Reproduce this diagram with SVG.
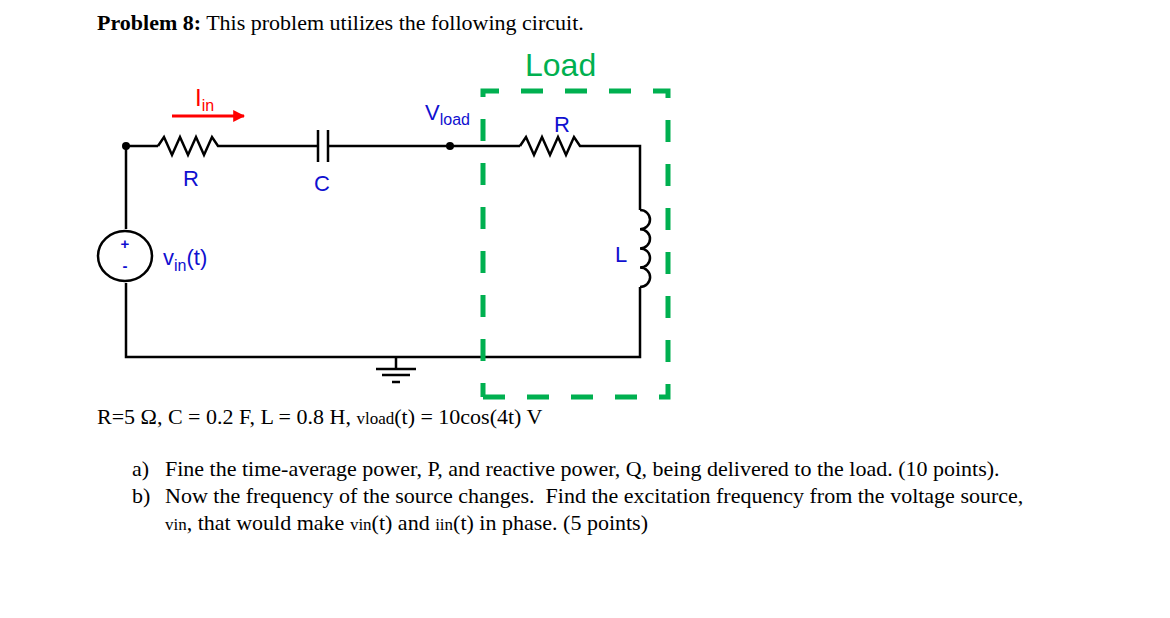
<svg xmlns="http://www.w3.org/2000/svg" width="1170" height="618" viewBox="0 0 1170 618">
<style>
.w{stroke:#000;stroke-width:2.5;fill:none}
.lb{font-family:"Liberation Sans",Arial,sans-serif;fill:#1010d0;font-size:22px}
.t{font-family:"Liberation Serif","Times New Roman",serif;font-size:22px;fill:#000}
.g{stroke:#00b050;stroke-width:5;fill:none;stroke-dasharray:22,22}
</style>
<defs><marker id="ah" viewBox="0 0 10 10" refX="9" refY="5" markerWidth="4" markerHeight="4" orient="auto"><path d="M0,0L10,5L0,10z" fill="#f00"/></marker></defs>
<rect width="1170" height="618" fill="#fff"/>
<text class="t" x="97" y="30"><tspan font-weight="bold">Problem 8:</tspan> This problem utilizes the following circuit.</text>
<g id="wires">
<path class="w" d="M126,146H158M224,146H318M328,146H450H520M590,146H640V210M640,287V357H126V283M126,229V146"/>
<path class="w" d="M396,357V369"/>
</g>
<g id="R1"><path class="w" d="M158,146L164,137L172,155L180,137L188,155L196,137L204,155L212,137L218,146H224"/><text class="lb" x="183" y="186">R</text></g>
<g id="C"><path class="w" d="M318,130V162M328,130V162"/><text class="lb" x="314" y="191">C</text></g>
<g id="nodes"><circle cx="126" cy="146" r="4"/><circle cx="450" cy="146" r="4"/></g>
<g id="Vload"><text class="lb" x="425" y="120" font-size="24">V<tspan font-size="16" dy="5">load</tspan></text></g>
<g id="Iin"><path d="M172,116H244" stroke="#f00" stroke-width="3" marker-end="url(#ah)"/><text x="195" y="106" font-family="Liberation Sans,Arial,sans-serif" font-size="24" fill="#f00">I<tspan font-size="16" dy="5">in</tspan></text></g>
<g id="Vin"><ellipse cx="125" cy="256" rx="27" ry="25" class="w"/><text x="125" y="249" font-family="Liberation Sans,Arial,sans-serif" font-size="15" font-weight="bold" fill="#1010d0" text-anchor="middle">+</text><text x="125" y="271" font-family="Liberation Sans,Arial,sans-serif" font-size="15" font-weight="bold" fill="#1010d0" text-anchor="middle">-</text><text class="lb" x="163" y="265">v<tspan font-size="16" dy="6">in</tspan><tspan dy="-6">(t)</tspan></text></g>
<g id="R2"><path class="w" d="M520,146L526,137L534,155L542,137L550,155L558,137L566,155L574,137L580,146H590"/><text class="lb" x="554" y="132">R</text></g>
<g id="L"><path class="w" d="M640,210A10,9.6 0 0 1 640,229.2A10,9.6 0 0 1 640,248.4A10,9.6 0 0 1 640,267.6A10,9.6 0 0 1 640,287"/><text class="lb" x="615" y="262">L</text></g>
<g id="gnd"><path class="w" d="M376,369H416M382,375H410M392,382H400"/></g>
<g id="load"><path class="g" d="M483,397V91H668V397H483" stroke-dasharray="22,22" stroke-dashoffset="8"/><text x="525" y="76" font-family="Liberation Sans,Arial,sans-serif" font-size="32" fill="#00b050">Load</text></g>
<text class="t" x="97" y="424">R=5 Ω, C = 0.2 F, L = 0.8 H, <tspan font-size="17">vload</tspan>(t) = 10cos(4t) V</text>
<text class="t" x="132" y="476">a)</text><text class="t" x="165" y="476">Fine the time-average power, P, and reactive power, Q, being delivered to the load. (10 points).</text>
<text class="t" x="132" y="503">b)</text><text class="t" x="165" y="503" xml:space="preserve">Now the frequency of the source changes.  Find the excitation frequency from the voltage source,</text>
<text class="t" x="165" y="530"><tspan font-size="17">vin</tspan>, that would make <tspan font-size="17">vin</tspan>(t) and <tspan font-size="17">iin</tspan>(t) in phase. (5 points)</text>
</svg>
